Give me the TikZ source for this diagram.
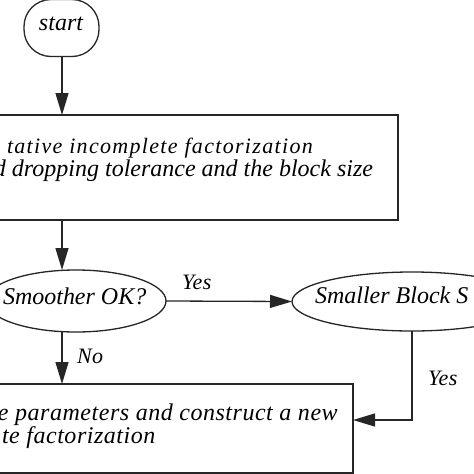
\documentclass[tikz,border=0pt]{standalone}
\usepackage{fontspec}
\setmainfont{Liberation Serif}
\usetikzlibrary{arrows.meta,shapes.geometric}
\begin{document}
\begin{tikzpicture}[x=1pt,y=-1pt,
  line width=1.3pt,
  every node/.style={inner sep=0pt,outer sep=0pt},
  shp/.style={draw=black!85,line width=1.3pt},
  boxshape/.style={shp,rectangle},
  ell/.style={shp,ellipse},
  lbl/.style={font=\itshape\fontsize{24}{28}\selectfont,anchor=base west,text=black},
  lbls/.style={font=\itshape\fontsize{24}{28}\selectfont\addfontfeatures{LetterSpace=2.2},anchor=base west,text=black},
  lblw/.style={font=\itshape\fontsize{22}{26}\selectfont\addfontfeatures{LetterSpace=6},anchor=base west,text=black},
  small/.style={font=\itshape\fontsize{22}{26}\selectfont\addfontfeatures{LetterSpace=2},anchor=base west,text=black},
  conn/.style={draw=black!85,line width=1.3pt},
  arr/.style={conn,-{Triangle[length=22pt,width=13pt]}}]
\useasboundingbox (0,0) rectangle (474,474);
\clip (0,0) rectangle (474,474);
\fill[white] (0,0) rectangle (474,474);
% shapes
\node[shp,rounded corners=27pt,minimum width=75pt,minimum height=57pt] (start) at (61.5,28) {};
\node[boxshape,minimum width=430pt,minimum height=105pt] (box1) at (183,167.5) {};
\node[ell,minimum width=180pt,minimum height=62pt] (smooth) at (76,301) {};
\node[ell,minimum width=240pt,minimum height=59pt] (smaller) at (412,301.5) {};
\node[boxshape,minimum width=385pt,minimum height=89pt] (box2) at (160.5,428.5) {};
% texts
\node[lbl,anchor=base] (tstart) at (61,30) {start};
\node[lblw] (t1a) at (7,153.5) {tative incomplete factorization};
\node[lbl] (t1b) at (-6,176) {d dropping tolerance and the block size};
\node[lbl] (tsm) at (3,304) {Smoother OK?};
\node[lbl] (tsb) at (315,303) {Smaller Block S};
\node[small] (tyes1) at (182,289) {Yes};
\node[small] (tno) at (77,363) {No};
\node[small] (tyes2) at (428,385) {Yes};
\node[lbls] (t2a) at (-2,420) {e parameters and construct a new};
\node[lbls] (t2b) at (2,443) {te factorization};
% connectors
\coordinate (col) at (62,0);
\coordinate (bend) at (412,420);
\draw[arr] (start.south -| col) -- (box1.north -| col);
\draw[arr] (box1.south -| col) -- (smooth.north -| col);
\draw[arr] (smooth.south -| col) -- (box2.north -| col);
\draw[arr] (smooth.east) -- (smaller.west);
\draw[arr] (smaller.south) -- (bend) -- (bend -| box2.east);
\end{tikzpicture}
\end{document}
